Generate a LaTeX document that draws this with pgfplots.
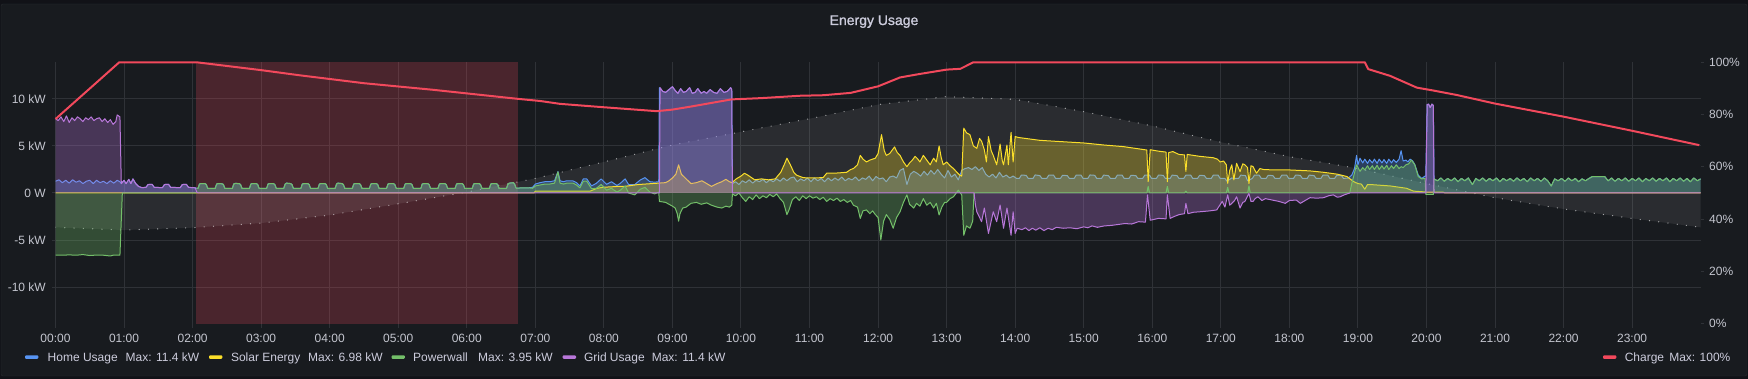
\documentclass[border=0pt]{standalone}
\usepackage{fontspec}
\setmainfont{Liberation Sans}
\usepackage{pgfplots}
\usepackage{pgfplotstable}
\pgfplotsset{compat=1.18}

\definecolor{bgpanel}{HTML}{181B1F}
\definecolor{bgouter}{HTML}{111217}
\definecolor{gridc}{HTML}{2F3237}
\definecolor{txt}{HTML}{CCCCDC}
\definecolor{ticktxt}{HTML}{C4C6CF}
\definecolor{cHome}{HTML}{5794F2}
\definecolor{cSolar}{HTML}{FADE2A}
\definecolor{cPW}{HTML}{73BF69}
\definecolor{cGrid}{HTML}{B877D9}
\definecolor{cCharge}{HTML}{F2495C}

% ---------------- data (time in hours, power in kW) ----------------
\pgfplotstableread[row sep=\\]{
t v\\
0 1.25\\ 0.05 1.4\\ 0.1 1.1\\ 0.15 1.35\\ 0.2 1.05\\ 0.25 1.4\\ 0.3 1.15\\ 0.35 1.3\\ 0.4 1.0\\ 0.45 1.25\\
0.5 1.35\\ 0.55 1.0\\ 0.6 1.35\\ 0.65 1.1\\ 0.7 1.25\\ 0.75 1.0\\ 0.8 1.3\\ 0.85 1.05\\ 0.9 1.35\\ 0.94 1.2\\
0.96 1.0\\ 1.0 1.35\\ 1.03 1.0\\ 1.07 1.45\\ 1.1 1.0\\ 1.13 1.5\\ 1.17 1.0\\ 1.21 0.7\\ 1.26 0.57\\ 1.32 0.6\\
1.35 0.9\\ 1.41 0.92\\ 1.44 0.6\\ 1.56 0.57\\ 1.59 0.9\\ 1.65 0.92\\ 1.68 0.6\\ 1.82 0.57\\ 1.85 0.9\\ 1.91 0.92\\
1.94 0.6\\ 2.04 0.55\\ 2.06 0.5\\
}\homeA

\pgfplotstableread[row sep=\\]{
t v\\
2.06 0.5\\
2.08 .5\\ 2.10 .95\\ 2.12 1.0\\ 2.18 1.0\\ 2.20 .9\\ 2.22 .5\\
2.33 .5\\ 2.35 .95\\ 2.37 1.0\\ 2.43 .98\\ 2.45 .9\\ 2.47 .5\\
2.58 .5\\ 2.60 .95\\ 2.62 1.02\\ 2.68 1.0\\ 2.70 .9\\ 2.72 .5\\
2.83 .5\\ 2.85 .95\\ 2.87 1.0\\ 2.93 1.0\\ 2.95 .9\\ 2.97 .5\\
3.08 .5\\ 3.10 .95\\ 3.12 1.0\\ 3.18 1.0\\ 3.20 .9\\ 3.22 .5\\
3.33 .5\\ 3.35 .95\\ 3.37 1.05\\ 3.43 1.0\\ 3.45 .9\\ 3.47 .5\\
3.58 .5\\ 3.60 .95\\ 3.62 1.0\\ 3.68 1.0\\ 3.70 .9\\ 3.72 .5\\
3.83 .5\\ 3.85 .95\\ 3.87 1.0\\ 3.93 1.0\\ 3.95 .9\\ 3.97 .5\\
4.08 .5\\ 4.10 .95\\ 4.12 1.05\\ 4.18 1.0\\ 4.20 .9\\ 4.22 .5\\
4.33 .5\\ 4.35 .95\\ 4.37 1.0\\ 4.43 1.0\\ 4.45 .9\\ 4.47 .5\\
4.58 .5\\ 4.60 .95\\ 4.62 1.0\\ 4.68 1.0\\ 4.70 .9\\ 4.72 .5\\
4.83 .5\\ 4.85 .95\\ 4.87 1.0\\ 4.93 1.0\\ 4.95 .9\\ 4.97 .5\\
5.08 .5\\ 5.10 .95\\ 5.12 1.0\\ 5.18 1.0\\ 5.20 .9\\ 5.22 .5\\
5.33 .5\\ 5.35 .95\\ 5.37 1.0\\ 5.43 1.0\\ 5.45 .9\\ 5.47 .5\\
5.58 .5\\ 5.60 .95\\ 5.62 1.0\\ 5.68 1.0\\ 5.70 .9\\ 5.72 .5\\
5.83 .5\\ 5.85 .95\\ 5.87 1.0\\ 5.93 1.0\\ 5.95 .9\\ 5.97 .5\\
6.08 .5\\ 6.10 .95\\ 6.12 1.0\\ 6.18 1.0\\ 6.20 .9\\ 6.22 .5\\
6.33 .5\\ 6.35 .95\\ 6.37 1.0\\ 6.43 1.0\\ 6.45 .9\\ 6.47 .5\\
6.58 .5\\ 6.60 .95\\ 6.62 1.05\\ 6.68 1.1\\ 6.70 .9\\ 6.72 .5\\
}\night

\pgfplotstableread[row sep=\\]{
t v\\
6.72 .5\\ 6.8 .55\\ 6.9 .55\\ 6.96 .6\\ 7.0 .95\\ 7.07 1.1\\ 7.14 1.2\\ 7.21 1.2\\ 7.28 1.3\\ 7.33 2.27\\
7.36 1.3\\ 7.41 1.2\\ 7.46 1.3\\ 7.55 1.28\\ 7.6 1.1\\ 7.65 .75\\ 7.7 1.5\\ 7.75 1.5\\ 7.82 .75\\ 7.89 1.03\\
7.96 1.5\\ 8.04 .92\\ 8.11 1.2\\ 8.19 .8\\ 8.24 1.03\\ 8.31 1.5\\ 8.36 .9\\ 8.45 .9\\ 8.53 1.38\\ 8.6 1.63\\
8.67 1.2\\ 8.74 1.15\\ 8.8 1.2\\
8.81 11.2\\ 8.86 10.8\\ 8.9 10.7\\ 8.95 11.0\\ 9.0 11.3\\ 9.04 10.9\\ 9.08 10.6\\ 9.12 11.1\\ 9.16 10.7\\ 9.2 10.8\\
9.25 11.2\\ 9.29 10.6\\ 9.33 10.7\\ 9.37 11.1\\ 9.42 10.6\\ 9.46 10.8\\ 9.5 10.6\\ 9.55 11.0\\ 9.6 10.7\\ 9.65 10.6\\
9.7 11.1\\ 9.75 10.7\\ 9.8 10.8\\ 9.85 11.2\\ 9.865 11.0\\
9.875 1.0\\ 9.92 1.2\\ 9.97 .9\\ 10.02 1.3\\ 10.07 1.1\\ 10.12 1.4\\ 10.17 1.05\\ 10.22 1.35\\ 10.27 1.2\\ 10.32 1.45\\
10.37 1.1\\ 10.42 1.4\\ 10.47 1.2\\ 10.52 1.5\\ 10.57 1.25\\ 10.62 1.6\\ 10.67 1.3\\ 10.72 1.6\\
10.77 1.7\\ 10.82 1.2\\ 10.87 1.5\\ 10.92 1.3\\ 10.97 1.6\\ 11.02 1.2\\ 11.07 1.6\\ 11.12 1.3\\ 11.17 1.55\\ 11.22 1.2\\
11.27 1.6\\ 11.32 1.3\\ 11.37 1.6\\ 11.42 1.35\\ 11.47 1.7\\ 11.52 1.3\\ 11.57 1.55\\ 11.62 1.4\\ 11.67 1.7\\ 11.72 1.3\\
11.77 1.6\\ 11.82 1.45\\ 11.87 1.8\\ 11.92 1.3\\ 11.97 1.75\\ 12.02 1.5\\ 12.07 1.6\\ 12.12 1.2\\ 12.17 1.7\\ 12.22 1.8\\
12.27 1.6\\ 12.32 2.4\\ 12.37 2.6\\ 12.42 .9\\ 12.47 2.0\\ 12.52 2.3\\ 12.57 2.1\\ 12.62 1.8\\ 12.67 2.3\\ 12.72 1.9\\
12.77 2.4\\ 12.82 2.0\\ 12.87 2.5\\ 12.92 2.0\\ 12.97 1.6\\ 13.02 2.4\\ 13.07 1.7\\ 13.12 2.0\\ 13.17 1.4\\ 13.22 2.4\\
13.27 2.6\\ 13.32 2.7\\ 13.37 2.5\\ 13.42 2.8\\ 13.47 2.4\\ 13.52 2.7\\ 13.57 2.0\\ 13.62 1.7\\ 13.67 2.0\\ 13.72 1.6\\
13.77 2.2\\ 13.82 1.7\\ 13.87 1.9\\ 13.92 1.6\\ 13.97 1.8\\ 14.02 1.55\\
14.06 1.55\\ 14.09 1.9\\ 14.16 1.88\\ 14.19 1.55\\ 14.26 1.55\\ 14.29 1.92\\ 14.36 1.85\\ 14.39 1.55\\
14.46 1.55\\ 14.49 1.9\\ 14.56 1.9\\ 14.59 1.55\\ 14.66 1.55\\ 14.69 1.88\\ 14.76 1.85\\ 14.79 1.55\\
14.86 1.55\\ 14.89 1.9\\ 14.96 1.9\\ 14.99 1.55\\ 15.06 1.55\\ 15.09 1.92\\ 15.16 1.88\\ 15.19 1.55\\
15.26 1.55\\ 15.29 1.9\\ 15.36 1.85\\ 15.39 1.55\\ 15.46 1.55\\ 15.49 1.9\\ 15.56 1.9\\ 15.59 1.55\\
15.66 1.55\\ 15.69 1.88\\ 15.76 1.85\\ 15.79 1.55\\ 15.86 1.55\\ 15.89 1.9\\ 15.96 1.9\\ 15.99 1.55\\
16.06 1.55\\ 16.09 1.9\\ 16.16 1.88\\ 16.19 1.55\\ 16.26 1.55\\ 16.29 1.9\\ 16.36 1.85\\ 16.39 1.55\\
16.46 1.55\\ 16.49 1.9\\ 16.56 1.9\\ 16.59 1.55\\ 16.66 1.55\\ 16.69 1.88\\ 16.76 1.85\\ 16.79 1.55\\
16.86 1.55\\ 16.89 1.9\\ 16.96 1.9\\ 16.99 1.55\\ 17.06 1.55\\ 17.09 1.25\\ 17.16 1.6\\ 17.19 1.55\\
17.26 1.55\\ 17.29 1.9\\ 17.36 1.85\\ 17.39 1.3\\ 17.46 1.55\\ 17.49 1.9\\ 17.56 1.9\\ 17.59 1.55\\
17.66 1.55\\ 17.69 1.88\\ 17.76 1.85\\ 17.79 1.55\\ 17.86 1.55\\ 17.89 1.9\\ 17.96 1.9\\ 17.99 1.55\\
18.06 1.55\\ 18.09 1.9\\ 18.16 1.88\\ 18.19 1.55\\ 18.26 1.55\\ 18.29 1.9\\ 18.36 1.85\\ 18.39 1.55\\
18.46 1.55\\ 18.49 1.9\\ 18.56 1.9\\ 18.59 1.55\\ 18.66 1.55\\ 18.69 1.88\\ 18.76 1.85\\ 18.79 1.55\\
18.86 1.6\\ 18.91 1.9\\ 18.95 2.6\\ 18.98 4.0\\ 19.0 3.0\\ 19.03 3.7\\ 19.07 3.2\\ 19.1 3.6\\ 19.14 3.15\\ 19.17 3.55\\
19.21 3.2\\ 19.24 3.6\\ 19.28 3.15\\ 19.31 3.6\\ 19.35 3.2\\ 19.38 3.55\\ 19.42 3.15\\ 19.45 3.6\\ 19.49 3.2\\ 19.52 3.55\\
19.56 3.25\\ 19.6 3.6\\ 19.63 4.5\\ 19.66 3.4\\ 19.7 3.5\\ 19.73 3.3\\ 19.76 3.6\\ 19.8 3.4\\ 19.83 3.0\\ 19.88 1.9\\
19.93 1.55\\ 19.98 1.8\\ 19.99 1.8\\ 20.01 9.4\\ 20.03 9.45\\ 20.055 9.1\\ 20.08 9.45\\ 20.1 9.3\\ 20.11 1.5\\
}\homeB

\pgfplotstableread[row sep=\\]{
t v\\
20.11 1.5\\ 20.16 1.3\\ 20.21 1.6\\ 20.26 1.25\\ 20.31 1.55\\ 20.36 1.3\\ 20.41 1.6\\ 20.46 1.2\\ 20.51 1.55\\ 20.56 1.3\\
20.61 1.6\\ 20.67 0.9\\ 20.72 1.55\\ 20.77 1.3\\ 20.82 1.6\\ 20.87 1.25\\ 20.92 1.55\\ 20.97 1.3\\ 21.02 1.6\\ 21.07 1.2\\
21.12 1.55\\ 21.17 1.3\\ 21.22 1.55\\ 21.27 1.25\\ 21.32 1.6\\ 21.37 1.3\\ 21.42 1.55\\ 21.47 1.2\\ 21.52 1.6\\ 21.57 1.3\\
21.62 1.55\\ 21.67 1.25\\ 21.72 1.6\\ 21.77 1.3\\ 21.82 0.75\\ 21.87 1.5\\ 21.92 1.3\\ 21.97 1.55\\ 22.02 1.25\\ 22.07 1.6\\
22.12 1.3\\ 22.17 1.55\\ 22.22 1.2\\ 22.27 1.5\\ 22.32 1.3\\ 22.37 1.55\\ 22.42 1.75\\ 22.5 1.75\\ 22.6 1.75\\ 22.65 1.3\\
22.7 1.6\\ 22.75 1.25\\ 22.8 1.55\\ 22.85 1.3\\ 22.9 1.6\\ 22.95 1.25\\ 23.0 1.55\\ 23.05 1.3\\ 23.1 1.6\\ 23.15 1.2\\
23.2 1.55\\ 23.25 1.3\\ 23.3 1.6\\ 23.35 1.25\\ 23.4 1.55\\ 23.45 1.3\\ 23.5 1.6\\ 23.55 1.2\\ 23.6 1.55\\ 23.65 1.3\\
23.7 1.6\\ 23.75 1.25\\ 23.8 1.55\\ 23.85 1.2\\ 23.9 1.6\\ 23.95 1.3\\ 24.0 1.5\\
}\eve

\pgfplotstableread[row sep=\\]{
t v\\
0 0\\ 6.98 0\\ 7.0 .2\\ 7.8 .2\\ 7.85 .35\\ 7.9 .5\\ 8.0 .62\\ 8.1 .65\\ 8.2 .7\\ 8.3 .7\\ 8.4 .8\\ 8.5 .9\\ 8.6 .95\\
8.7 1.0\\ 8.8 1.05\\ 8.9 1.1\\ 8.95 1.3\\ 9.0 1.6\\ 9.05 2.0\\ 9.09 3.0\\ 9.13 2.0\\ 9.2 1.5\\ 9.27 1.0\\ 9.35 1.1\\
9.43 1.3\\ 9.5 1.0\\ 9.57 .7\\ 9.65 1.0\\ 9.72 1.2\\ 9.78 1.45\\ 9.83 1.2\\ 9.87 1.1\\ 9.93 1.5\\ 10.0 1.8\\ 10.05 2.1\\
10.1 1.9\\ 10.2 1.4\\ 10.3 1.5\\ 10.4 1.4\\ 10.5 1.5\\ 10.58 2.2\\ 10.63 3.0\\ 10.67 3.7\\ 10.72 3.0\\ 10.77 2.2\\
10.81 1.9\\ 10.9 1.65\\ 10.96 1.6\\ 11.1 1.6\\ 11.2 1.65\\ 11.25 2.1\\ 11.35 2.1\\ 11.45 2.15\\ 11.54 2.2\\ 11.6 2.5\\
11.64 2.6\\ 11.7 3.0\\ 11.74 4.0\\ 11.78 3.6\\ 11.83 3.3\\ 11.88 3.5\\ 11.92 3.6\\ 11.96 3.7\\ 12.0 4.2\\ 12.05 6.2\\
12.09 4.5\\ 12.12 4.0\\ 12.17 4.2\\ 12.21 4.6\\ 12.24 4.9\\ 12.28 4.3\\ 12.32 4.0\\ 12.37 3.3\\ 12.42 2.8\\ 12.46 3.2\\
12.5 3.5\\ 12.54 3.9\\ 12.58 3.6\\ 12.61 3.3\\ 12.66 4.0\\ 12.7 3.6\\ 12.76 3.0\\ 12.81 3.7\\ 12.85 3.3\\ 12.89 5.0\\
12.92 3.8\\ 12.95 3.0\\ 13.0 3.3\\ 13.05 2.9\\ 13.1 2.6\\ 13.15 2.2\\ 13.19 1.9\\ 13.22 1.8\\ 13.25 6.9\\ 13.29 6.4\\
13.34 6.2\\ 13.39 5.0\\ 13.44 4.75\\ 13.48 5.8\\ 13.51 5.5\\ 13.55 4.6\\ 13.58 3.3\\ 13.61 6.0\\ 13.65 4.5\\ 13.68 4.0\\
13.73 3.0\\ 13.78 5.2\\ 13.81 3.5\\ 13.83 3.0\\ 13.88 5.1\\ 13.9 3.0\\ 13.94 6.45\\ 13.97 3.3\\ 14.0 6.0\\ 14.05 5.9\\
14.36 5.6\\ 14.7 5.45\\ 15.0 5.32\\ 15.3 5.1\\ 15.58 4.93\\ 15.92 4.57\\ 15.94 1.2\\ 15.97 4.6\\ 16.09 4.45\\ 16.2 4.35\\
16.22 1.2\\ 16.24 4.3\\ 16.3 4.4\\ 16.39 4.1\\ 16.47 4.05\\ 16.49 2.3\\ 16.51 4.1\\ 16.69 3.9\\ 16.89 3.75\\ 16.95 3.6\\
16.99 3.3\\ 17.04 3.4\\ 17.08 3.0\\ 17.1 1.03\\ 17.13 2.4\\ 17.16 3.0\\ 17.19 1.4\\ 17.23 3.15\\ 17.28 2.27\\ 17.32 3.1\\
17.35 3.0\\ 17.39 2.7\\ 17.41 1.0\\ 17.44 2.9\\ 17.47 2.8\\ 17.52 2.1\\ 17.57 2.6\\ 17.62 2.5\\ 17.77 2.45\\ 18.0 2.45\\
18.3 2.35\\ 18.5 2.2\\ 18.7 2.0\\ 18.84 1.75\\ 18.94 1.2\\ 19.0 1.0\\ 19.05 .95\\ 19.1 .4\\ 19.14 .9\\ 19.18 .9\\
19.47 .75\\ 19.71 .5\\ 19.81 .2\\ 20.0 .1\\ 20.24 .1\\ 20.27 0\\ 24 0\\
}\solar

\pgfplotstableread[row sep=\\]{
t v\\
0 -6.6\\ 0.1 -6.62\\ 0.2 -6.58\\ 0.3 -6.62\\ 0.4 -6.55\\ 0.5 -6.65\\ 0.6 -6.6\\ 0.7 -6.62\\ 0.8 -6.7\\ 0.85 -6.6\\
0.94 -6.62\\ 0.975 0\\ 2.06 0\\
}\pwA

\pgfplotstableread[row sep=\\]{
t v\\
6.72 .5\\ 6.8 .55\\ 6.9 .55\\ 6.96 .5\\ 7.0 .75\\ 7.07 .85\\ 7.14 .95\\ 7.21 .95\\ 7.28 1.05\\ 7.33 2.25\\
7.36 1.05\\ 7.41 .95\\ 7.46 1.05\\ 7.55 1.05\\ 7.6 .85\\ 7.65 .55\\ 7.7 1.25\\ 7.75 1.25\\ 7.82 .45\\ 7.89 .5\\
7.96 .9\\ 8.04 .3\\ 8.11 .5\\ 8.19 .1\\ 8.24 .3\\ 8.31 .75\\ 8.36 0\\ 8.45 -.2\\ 8.53 .4\\ 8.6 .6\\
8.67 .1\\ 8.74 -.1\\ 8.8 .1\\ 8.81 -.9\\ 8.86 -.95\\ 8.9 -1.0\\ 8.95 -1.2\\ 9.0 -1.4\\ 9.04 -1.6\\ 9.07 -2.2\\
9.09 -3.0\\ 9.11 -2.2\\ 9.15 -1.6\\ 9.2 -1.5\\ 9.27 -1.1\\ 9.35 -1.0\\ 9.42 -1.2\\ 9.5 -1.05\\ 9.57 -1.3\\ 9.65 -1.5\\
9.72 -1.6\\ 9.78 -1.4\\ 9.83 -1.5\\ 9.865 -1.3\\ 9.875 -.1\\ 9.92 -.3\\ 9.97 0\\ 10.02 -.5\\ 10.07 -.9\\ 10.12 -.4\\
10.17 -.7\\ 10.22 -.2\\ 10.27 -.6\\ 10.32 -.3\\ 10.37 -.5\\ 10.42 -.15\\ 10.47 -.4\\ 10.52 -.1\\ 10.57 -.6\\ 10.62 -1.0\\
10.67 -2.3\\ 10.7 -1.8\\ 10.75 -.7\\ 10.8 -.4\\ 10.85 -.8\\ 10.9 -.3\\ 10.95 -.6\\ 11.0 -.3\\ 11.05 -.55\\ 11.1 -.4\\
11.15 -.7\\ 11.2 -.45\\ 11.25 -.9\\ 11.3 -.6\\ 11.35 -.8\\ 11.4 -.55\\ 11.45 -.9\\ 11.5 -.7\\ 11.55 -1.0\\ 11.6 -.8\\
11.64 -1.3\\ 11.7 -1.5\\ 11.74 -2.7\\ 11.78 -1.9\\ 11.83 -1.8\\ 11.88 -2.2\\ 11.92 -1.9\\ 11.96 -2.3\\ 12.0 -2.6\\ 12.04 -5.0\\
12.08 -3.0\\ 12.12 -2.3\\ 12.17 -2.8\\ 12.22 -3.75\\ 12.27 -2.6\\ 12.32 -2.0\\ 12.37 -1.0\\ 12.42 -.2\\ 12.46 -1.2\\ 12.52 -1.6\\
12.56 -1.1\\ 12.61 -1.4\\ 12.66 -.6\\ 12.71 -1.3\\ 12.76 -1.0\\ 12.81 -1.6\\ 12.85 -1.1\\ 12.89 -2.34\\ 12.93 -1.5\\ 12.97 -1.0\\
13.0 -1.0\\ 13.05 -.6\\ 13.1 -.4\\ 13.14 0\\ 13.17 .3\\ 13.22 -.2\\ 13.25 -4.5\\ 13.29 -3.5\\ 13.34 -3.75\\ 13.38 -3.0\\
13.4 0\\ 15.92 0\\ 15.94 .7\\ 15.96 0\\ 16.2 0\\ 16.22 .7\\ 16.24 0\\ 16.47 0\\ 16.49 .2\\ 16.51 0\\
17.08 0\\ 17.1 .6\\ 17.12 0\\ 17.39 0\\ 17.41 .75\\ 17.43 0\\ 18.88 0\\ 18.91 1.0\\ 18.98 3.0\\ 19.03 2.3\\
19.07 2.7\\ 19.1 2.45\\ 19.14 2.9\\ 19.17 2.5\\ 19.21 2.9\\ 19.24 2.5\\ 19.28 2.95\\ 19.31 2.5\\ 19.35 2.9\\ 19.38 2.55\\
19.42 2.95\\ 19.45 2.5\\ 19.49 2.9\\ 19.52 2.6\\ 19.56 3.0\\ 19.6 2.6\\ 19.63 2.8\\ 19.66 2.7\\ 19.7 3.0\\ 19.74 3.1\\
19.78 3.5\\ 19.83 3.0\\ 19.88 1.75\\ 19.93 1.5\\ 19.98 1.55\\ 19.99 -.15\\ 20.1 -.15\\ 20.11 1.5\\
}\pwB

\pgfplotstableread[row sep=\\]{
t v\\
0 7.9\\ 0.04 7.7\\ 0.08 8.1\\ 0.12 7.6\\ 0.16 8.2\\ 0.2 7.5\\ 0.24 8.0\\ 0.28 7.7\\ 0.32 8.1\\ 0.36 7.9\\
0.4 7.6\\ 0.44 8.0\\ 0.48 7.8\\ 0.52 8.1\\ 0.56 7.7\\ 0.6 7.9\\ 0.64 8.0\\ 0.68 7.6\\ 0.72 7.9\\ 0.76 7.5\\
0.8 7.8\\ 0.84 7.3\\ 0.88 7.6\\ 0.9 8.3\\ 0.94 8.1\\
0.96 1.0\\ 1.0 1.35\\ 1.03 1.0\\ 1.07 1.45\\ 1.1 1.0\\ 1.13 1.5\\ 1.17 1.0\\ 1.21 0.7\\ 1.26 0.57\\ 1.32 0.6\\
1.35 0.9\\ 1.41 0.92\\ 1.44 0.6\\ 1.56 0.57\\ 1.59 0.9\\ 1.65 0.92\\ 1.68 0.6\\ 1.82 0.57\\ 1.85 0.9\\ 1.91 0.92\\
1.94 0.6\\ 2.04 0.55\\ 2.06 0.1\\ 2.08 0\\ 8.81 0\\
8.82 11.2\\ 8.86 10.8\\ 8.9 10.7\\ 8.95 11.0\\ 9.0 11.3\\ 9.04 10.9\\ 9.08 10.6\\ 9.12 11.1\\ 9.16 10.7\\ 9.2 10.8\\
9.25 11.2\\ 9.29 10.6\\ 9.33 10.7\\ 9.37 11.1\\ 9.42 10.6\\ 9.46 10.8\\ 9.5 10.6\\ 9.55 11.0\\ 9.6 10.7\\ 9.65 10.6\\
9.7 11.1\\ 9.75 10.7\\ 9.8 10.8\\ 9.85 11.2\\ 9.865 11.0\\ 9.875 0\\ 13.4 0\\
13.42 -1.28\\ 13.44 -2.0\\ 13.51 -3.05\\ 13.55 -1.6\\ 13.61 -4.3\\ 13.68 -2.0\\ 13.73 -3.05\\ 13.78 -1.28\\ 13.83 -3.75\\ 13.88 -1.6\\
13.94 -4.5\\ 13.97 -2.0\\ 14.0 -4.3\\ 14.03 -3.75\\ 14.1 -3.9\\ 14.15 -3.7\\ 14.2 -4.0\\ 14.25 -3.75\\ 14.3 -3.95\\ 14.36 -3.7\\
14.42 -4.0\\ 14.48 -3.75\\ 14.54 -3.9\\ 14.6 -3.65\\ 14.7 -3.75\\ 14.8 -3.7\\ 14.9 -3.8\\ 15.0 -3.6\\ 15.06 -3.7\\ 15.12 -3.5\\
15.2 -3.65\\ 15.3 -3.5\\ 15.4 -3.45\\ 15.5 -3.35\\ 15.6 -3.25\\ 15.7 -3.3\\ 15.8 -3.05\\ 15.9 -3.1\\ 15.93 -.2\\ 15.97 -2.9\\
16.09 -2.7\\ 16.2 -2.75\\ 16.22 -.2\\ 16.26 -2.7\\ 16.32 -2.5\\ 16.39 -2.3\\ 16.47 -2.2\\ 16.49 -1.1\\ 16.52 -2.2\\ 16.6 -2.05\\
16.69 -2.0\\ 16.84 -1.9\\ 16.94 -1.8\\ 17.02 -.9\\ 17.06 -1.5\\ 17.1 -.2\\ 17.13 -1.3\\ 17.16 -1.1\\ 17.2 -.8\\ 17.23 -.4\\
17.28 -1.6\\ 17.32 -1.0\\ 17.35 -.9\\ 17.41 -.05\\ 17.44 -.9\\ 17.47 -.9\\ 17.5 -.6\\ 17.54 -.4\\ 17.6 -.8\\ 17.65 -.6\\
17.75 -.75\\ 17.85 -.9\\ 17.94 -1.1\\ 18.0 -.8\\ 18.1 -.75\\ 18.16 -1.1\\ 18.23 -.8\\ 18.3 -.5\\ 18.4 -.55\\ 18.5 -.5\\
18.57 -.3\\ 18.64 -.2\\ 18.7 -.45\\ 18.74 -.4\\ 18.8 -.2\\ 18.86 -.05\\ 18.88 0\\ 19.99 0\\
20.01 9.4\\ 20.03 9.45\\ 20.055 9.1\\ 20.08 9.45\\ 20.1 9.3\\ 20.11 0\\ 24 0\\
}\gridu

\pgfplotstableread[row sep=\\]{
t v\\
0 -3.65\\ 1 -3.94\\ 2 -3.69\\ 3 -3.2\\ 4 -2.35\\ 5 -1.15\\ 6 0.1\\ 7 1.55\\ 8 3.3\\ 9 5.1\\ 10 6.5\\ 11 7.9\\
12 9.4\\ 13 10.25\\ 14 9.96\\ 15 8.65\\ 16 7.13\\ 17 5.4\\ 18 3.87\\ 19 2.6\\ 20 1.0\\ 21 -0.5\\ 22 -1.7\\ 23 -2.7\\ 24 -3.65\\
}\sunref

\pgfplotstableread[row sep=\\]{
t v\\
0 78.3\\ 0.93 100\\ 2.06 100\\ 3.0 97.0\\ 3.57 95.0\\ 4.5 92.0\\ 5.5 89.5\\ 6.75 86.0\\ 7.07 85.2\\ 7.36 84.1\\
8.0 82.8\\ 8.77 81.3\\ 9.0 81.9\\ 9.3 83.2\\ 9.6 84.6\\ 9.86 85.8\\ 10.3 86.3\\ 10.86 87.2\\ 11.2 87.4\\ 11.6 88.3\\
12.0 90.8\\ 12.32 94.2\\ 12.6 95.5\\ 13.0 97.2\\ 13.2 97.5\\ 13.39 100\\ 19.1 100\\ 19.15 97.4\\ 19.47 94.8\\ 19.86 90.3\\
20.1 89.2\\ 20.44 87.5\\ 21.0 84.2\\ 22.0 79.2\\ 23.0 73.8\\ 23.98 68.3\\
}\charge

\pgfplotsset{
  fillS/.style={draw=none, fill=#1, fill opacity=0.3},
  lineS/.style={draw=#1, line width=1pt, line join=round, mark=none},
}

\begin{document}
\begin{tikzpicture}[x=1pt, y=1pt, font=\fontsize{12}{14}\selectfont]
\fill[bgouter] (0,0) rectangle (1748,379);
\filldraw[fill=bgpanel, draw=gridc!70!bgpanel, rounded corners=2pt] (1,3) rectangle (1747,375);
\node[anchor=base, inner sep=0pt, text=txt] at (874,354) {\fontsize{14}{16}\selectfont\addfontfeatures{FakeBold=1.2}Energy Usage};

\begin{axis}[
  at={(55.5pt,55.3pt)}, anchor=south west, scale only axis,
  width=1645.2pt, height=261.4pt,
  xmin=0, xmax=24, ymin=-13.9, ymax=13.9,
  axis line style={draw=none},
  xtick={0,1,...,23},
  xticklabels={00:00,01:00,02:00,03:00,04:00,05:00,06:00,07:00,08:00,09:00,10:00,11:00,12:00,13:00,14:00,15:00,16:00,17:00,18:00,19:00,20:00,21:00,22:00,23:00},
  ytick={-10,-5,0,5,10},
  yticklabels={-10 kW,-5 kW,0 W,5 kW,10 kW},
  xtick pos=bottom, ytick pos=left,
  xmajorgrids, ymajorgrids,
  major grid style={draw=gridc, line width=1pt},
  tick align=outside, major tick length=4pt,
  major tick style={draw=gridc, line width=1pt},
  ticklabel style={font=\fontsize{12}{14}\selectfont, text=ticktxt, inner sep=0pt},
  xticklabel style={anchor=center, yshift=-10.2pt},
  yticklabel style={anchor=east, xshift=-5.5pt},
]
% time region
\addplot[draw=none, fill=cCharge, fill opacity=0.23] coordinates {(2.055,-13.9) (2.055,13.9) (6.75,13.9) (6.75,-13.9)} -- cycle;
% hidden reference series (grey, dotted)
\addplot[draw=none, fill=white, fill opacity=0.08] table {\sunref} \closedcycle;
\addplot[draw=white, draw opacity=0.6, line width=1.3pt, line cap=round, dash pattern=on 0pt off 9.3pt] table {\sunref};
% Home usage
\addplot[fillS=cHome] table {\homeA} \closedcycle;
\addplot[fillS=cHome] table {\night} \closedcycle;
\addplot[fillS=cHome] table {\homeB} \closedcycle;
\addplot[fillS=cHome] table {\eve} \closedcycle;
\addplot[lineS=cHome] table {\homeA};
\addplot[lineS=cHome] table {\night};
\addplot[lineS=cHome] table {\homeB};
\addplot[lineS=cHome] table {\eve};
% Solar
\addplot[fillS=cSolar] table {\solar} \closedcycle;
\addplot[lineS=cSolar] table {\solar};
% Powerwall
\addplot[fillS=cPW] table {\pwA} \closedcycle;
\addplot[fillS=cPW] table {\night} \closedcycle;
\addplot[fillS=cPW] table {\pwB} \closedcycle;
\addplot[fillS=cPW] table {\eve} \closedcycle;
\addplot[lineS=cPW] table {\pwA};
\addplot[lineS=cPW] table {\night};
\addplot[lineS=cPW] table {\pwB};
\addplot[lineS=cPW] table {\eve};
% Grid
\addplot[fillS=cGrid] table {\gridu} \closedcycle;
\addplot[lineS=cGrid] table {\gridu};
\end{axis}

\begin{axis}[
  at={(55.5pt,55.3pt)}, anchor=south west, scale only axis,
  width=1645.2pt, height=261.4pt,
  xmin=0, xmax=24, ymin=0, ymax=100,
  axis line style={draw=none},
  xtick=\empty,
  ytick={0,20,40,60,80,100},
  yticklabels={0\%,20\%,40\%,60\%,80\%,100\%},
  ytick pos=right, yticklabel pos=right,
  tick align=outside, major tick length=3pt,
  major tick style={draw=gridc, line width=1pt},
  ticklabel style={font=\fontsize{12}{14}\selectfont, text=ticktxt, inner sep=0pt},
  yticklabel style={anchor=west, xshift=5.3pt},
  clip=false,
]
\addplot[draw=cCharge, line width=2pt, line join=round, mark=none] table {\charge};
\end{axis}

% legend
\fill[cHome, rounded corners=1pt] (25,20.2) rectangle (38.4,23.7);
\node[anchor=base west, inner sep=0pt, text=txt] at (47.5,17.3) {Home Usage};
\node[anchor=base west, inner sep=0pt, text=txt] at (125.5,17.3) {Max: 11.4 kW};
\fill[cSolar, rounded corners=1pt] (209,20.2) rectangle (222.4,23.7);
\node[anchor=base west, inner sep=0pt, text=txt] at (230.8,17.3) {Solar Energy};
\node[anchor=base west, inner sep=0pt, text=txt] at (308,17.3) {Max: 6.98 kW};
\fill[cPW, rounded corners=1pt] (391.5,20.2) rectangle (404.9,23.7);
\node[anchor=base west, inner sep=0pt, text=txt] at (413,17.3) {Powerwall};
\node[anchor=base west, inner sep=0pt, text=txt] at (478,17.3) {Max: 3.95 kW};
\fill[cGrid, rounded corners=1pt] (562.6,20.2) rectangle (576,23.7);
\node[anchor=base west, inner sep=0pt, text=txt] at (583.8,17.3) {Grid Usage};
\node[anchor=base west, inner sep=0pt, text=txt] at (651.6,17.3) {Max: 11.4 kW};
\fill[cCharge, rounded corners=1pt] (1603,20.2) rectangle (1616.4,23.7);
\node[anchor=base west, inner sep=0pt, text=txt] at (1624.6,17.3) {Charge};
\node[anchor=base east, inner sep=0pt, text=txt] at (1730.6,17.3) {Max: 100\%};

\pgfresetboundingbox
\path[use as bounding box] (0,0) rectangle (1748,379);
\end{tikzpicture}
\end{document}
